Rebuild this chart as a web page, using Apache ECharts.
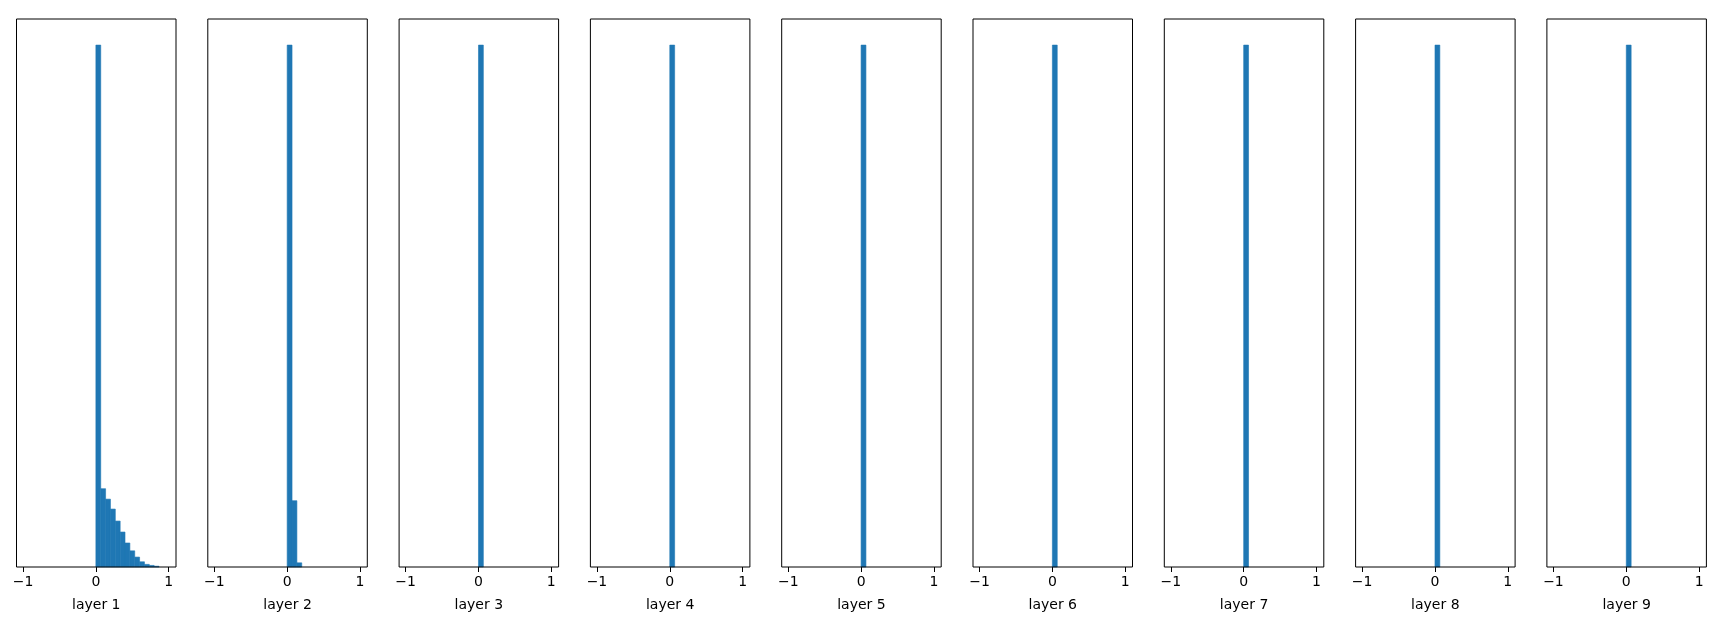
<!DOCTYPE html>
<html><head><meta charset="utf-8">
<script src="https://cdn.jsdelivr.net/npm/echarts@6/dist/echarts.min.js"></script>
<style>html,body{margin:0;padding:0;background:#fff}#c{width:1724px;height:626px}</style>
</head><body><div id="c"></div>
<script>
const binWidth = 1/15;
const layerNames = ["layer 1","layer 2","layer 3","layer 4","layer 5","layer 6","layer 7","layer 8","layer 9"];
// counts for bins starting at 0 (relative scale, tallest = 1000)
const layer1 = [1000,150,130,111,88,67,46,31,19,10,5,3,1.5];
const layer2 = [1000,127,8];
const layerSingle = [1000];
const layers = [layer1, layer2, layerSingle, layerSingle, layerSingle, layerSingle, layerSingle, layerSingle, layerSingle];
const xTicks = [-1, 0, 1];

const chart = echarts.init(document.getElementById('c'));
const grids=[], xAxes=[], yAxes=[], series=[];
layers.forEach((vals, i) => {
  grids.push({left: 16.5 + 191.3*i, top: 19, width: 159.5, height: 548});
  xAxes.push({type:'value', gridIndex:i, min:-1.09, max:1.1,
    name: layerNames[i], nameLocation:'middle', nameGap:31,
    nameTextStyle:{color:'#000', fontSize:14, fontFamily:'DejaVu Sans'},
    axisLine:{show:false}, splitLine:{show:false},
    axisTick:{show:true, customValues:xTicks, length:5, lineStyle:{color:'#000'}},
    axisLabel:{customValues:xTicks, color:'#000', fontSize:14, fontFamily:'DejaVu Sans', margin:8,
      formatter: v => v < 0 ? '\u2212' + Math.abs(v) : String(v)}});
  yAxes.push({type:'value', gridIndex:i, min:0, max:1050, show:true,
    axisLine:{show:false}, axisTick:{show:false}, axisLabel:{show:false}, splitLine:{show:false}});
  series.push({type:'custom', xAxisIndex:i, yAxisIndex:i,
    data: vals.map((v,k)=>[k*binWidth,(k+1)*binWidth,v]),
    renderItem:(params, api) => {
      const p0 = api.coord([api.value(0), api.value(2)]);
      const p1 = api.coord([api.value(1), 0]);
      return {type:'rect', shape:{x:p0[0], y:p0[1], width:p1[0]-p0[0], height:p1[1]-p0[1]},
        style:{fill:'#1f77b4', stroke:'#1f77b4', lineWidth:0.6}};
    }, silent:true});
  // frame
  series.push({type:'custom', xAxisIndex:i, yAxisIndex:i, data:[[0]], silent:true, z:5,
    renderItem:(params, api) => {
      const c = params.coordSys;
      return {type:'rect', shape:{x:c.x, y:c.y, width:c.width, height:c.height},
        style:{fill:null, stroke:'#000', lineWidth:1}};
    }});
});
chart.setOption({animation:false, grid:grids, xAxis:xAxes, yAxis:yAxes, series});
</script></body></html>
